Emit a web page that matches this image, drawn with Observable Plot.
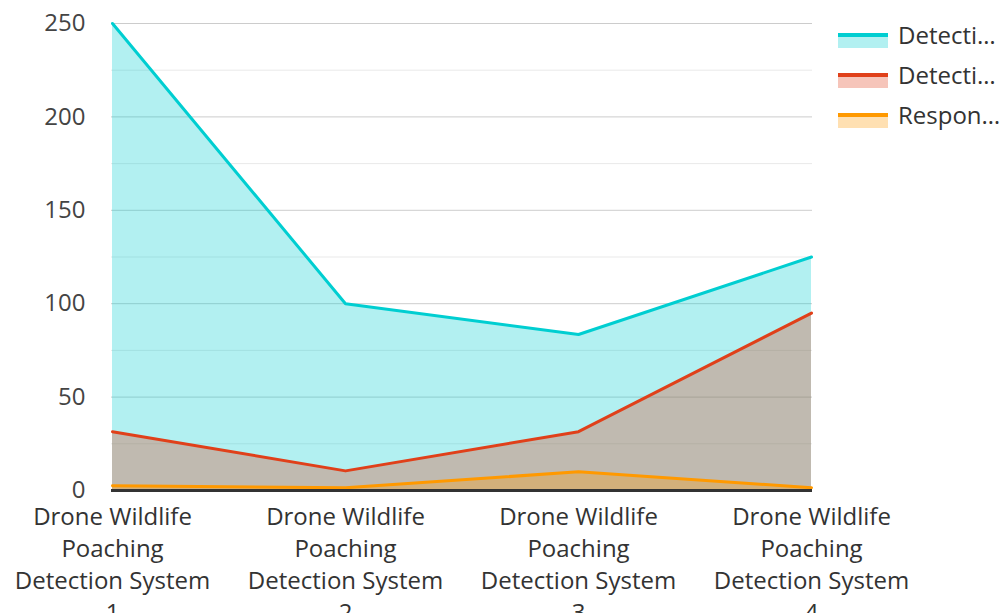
<!DOCTYPE html>
<html><head><meta charset="utf-8">
<script src="https://cdn.jsdelivr.net/npm/d3@7"></script>
<script src="https://cdn.jsdelivr.net/npm/@observablehq/plot@0.6"></script>
<style>
body{margin:0;background:#fff;font-family:"Open Sans",sans-serif;}
#wrap{position:relative;width:1005px;height:613px;overflow:hidden;}
#legend{position:absolute;left:838px;top:22px;font-size:24px;color:#333;}
.item{position:relative;height:40px;width:170px;}
.item .fill{position:absolute;left:0;top:15px;width:50px;height:11px;opacity:0.3;}
.item .ln{position:absolute;left:0;top:11px;width:50px;height:4px;}
.item span{position:absolute;left:60px;top:0;line-height:26px;white-space:nowrap;}
</style></head>
<body><div id="wrap"><div id="legend"></div></div>
<script>
const categories = ["Drone Wildlife Poaching Detection System 1","Drone Wildlife Poaching Detection System 2","Drone Wildlife Poaching Detection System 3","Drone Wildlife Poaching Detection System 4"];
const seriesNames = ["Detections", "Detection Accuracy", "Response Time"];
const legendLabels = ["Detecti…", "Detecti…", "Respon…"];
const colors = ["#00CED1", "#E0401A", "#FF9900"];
const detections = [250, 100, 83.5, 125];
const accuracy = [31.5, 10.5, 31.5, 95];
const response = [2.5, 1.5, 10, 1.5];
const yTicks = [0, 50, 100, 150, 200, 250];
const minorTicks = [25, 75, 125, 175, 225];

const valuesList = [detections, accuracy, response];
const data = [];
valuesList.forEach((vals, s) => vals.forEach((v, i) => data.push({series: seriesNames[s], cat: categories[i], value: v})));

const wrapLabel = c => {const n = c.match(/\d+$/)[0]; return "Drone Wildlife\nPoaching\nDetection System\n" + n;};

const marks = [];
marks.push(Plot.ruleY(minorTicks, {stroke: "#000", strokeOpacity: 0.09, strokeWidth: 1}));
marks.push(Plot.ruleY(yTicks.filter(d => d > 0), {stroke: "#000", strokeOpacity: 0.2, strokeWidth: 1}));
seriesNames.forEach((s, k) => {
  marks.push(Plot.areaY(data.filter(d => d.series === s), {x: "cat", y: "value", fill: colors[k], fillOpacity: 0.3}));
});
seriesNames.forEach((s, k) => {
  marks.push(Plot.lineY(data.filter(d => d.series === s), {x: "cat", y: "value", stroke: colors[k], strokeWidth: 3}));
});
marks.push(Plot.ruleY([0], {stroke: "#333", strokeWidth: 3}));
marks.push(Plot.axisY({ticks: yTicks, tickSize: 0, tickPadding: 26, fontSize: 24, fill: "#444", label: null}));
marks.push(Plot.axisX({tickSize: 0, tickPadding: 12, fontSize: 24, lineHeight: 1.333, fill: "#333", tickFormat: wrapLabel, textOverflow: null, label: null}));

const chart = Plot.plot({
  width: 1005, height: 613,
  marginLeft: 111, marginRight: 193, marginTop: 23, marginBottom: 123,
  style: {fontFamily: "'Open Sans', sans-serif", background: "#fff", overflow: "visible"},
  x: {type: "point", domain: categories, padding: 0, axis: null},
  y: {domain: [0, 250], axis: null},
  marks
});
document.getElementById("wrap").prepend(chart);

const lg = document.getElementById("legend");
legendLabels.forEach((l, k) => {
  const it = document.createElement("div"); it.className = "item";
  it.innerHTML = `<div class="fill" style="background:${colors[k]}"></div><div class="ln" style="background:${colors[k]}"></div><span>${l}</span>`;
  lg.appendChild(it);
});
</script></body></html>
